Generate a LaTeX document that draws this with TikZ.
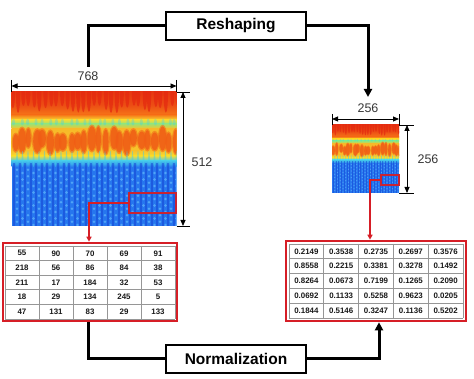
\documentclass[tikz,border=0pt]{standalone}
\usepackage{fontspec}
\setmainfont{Liberation Sans}
\usetikzlibrary{arrows.meta,calc}
\definecolor{tabred}{RGB}{214,30,38}
\definecolor{selred}{RGB}{200,35,50}
\definecolor{gridgray}{RGB}{150,150,150}
\definecolor{dimtext}{RGB}{55,55,55}
\definecolor{cellText}{RGB}{25,25,25}
\definecolor{sRed}{RGB}{228,40,16}
\definecolor{sOrange}{RGB}{246,120,24}
\definecolor{sYel}{RGB}{248,220,50}
\definecolor{sGreen}{RGB}{150,228,120}
\definecolor{sCyan}{RGB}{70,205,235}
\definecolor{sBlue}{RGB}{38,118,238}
\definecolor{sDeep}{RGB}{18,58,205}
\definecolor{sLight}{RGB}{95,180,250}
\tikzset{
  conn/.style={line width=3pt,black},
  redconn/.style={line width=1.3pt,tabred,-{Triangle[length=5pt,width=5pt]}},
  dimline/.style={line width=0.8pt,black},
  dimarrows/.style={{Triangle[length=6pt,width=5pt]}-{Triangle[length=6pt,width=5pt]}},
  labelbox/.style={draw,line width=1.4pt,minimum width=140pt,minimum height=28pt,inner sep=0pt,fill=white,font=\bfseries\fontsize{15.5}{18}\selectfont},
  dimlabel/.style={text=dimtext,inner sep=0pt,font=\fontsize{12.5}{14}\selectfont},
  tabframe/.style={draw=tabred,line width=2.6pt,inner sep=0pt},
  selbox/.style={draw=selred,line width=2pt,inner sep=0pt},
  gridline/.style={gridgray,line width=0.7pt},
  cell/.style={inner sep=0pt,text=cellText,font=\bfseries\fontsize{7.9}{9}\selectfont},
}
% band: x0 y0 w h f0 f1 topcolor bottomcolor
\newcommand\shadeband[8]{%
  \shade[top color=#7,bottom color=#8] ({#1},{#2+#5*#4}) rectangle ({#1+#3},{#2+#6*#4+0.7});}
% spectrogram: x0 y0 w h scale
\newcommand\spectro[5]{%
\begin{scope}
  \clip (#1,#2) rectangle ++(#3,#4);
  \fill[sBlue] (#1,#2) rectangle ++(#3,#4);
  \shadeband{#1}{#2}{#3}{#4}{0}{0.10}{sRed!80!sOrange}{sRed!50!sOrange}
  \shadeband{#1}{#2}{#3}{#4}{0.10}{0.17}{sRed!50!sOrange}{sOrange}
  \shadeband{#1}{#2}{#3}{#4}{0.17}{0.205}{sOrange}{sYel}
  \shadeband{#1}{#2}{#3}{#4}{0.205}{0.235}{sYel}{sGreen}
  \shadeband{#1}{#2}{#3}{#4}{0.235}{0.27}{sGreen}{sYel!75!sOrange}
  \shadeband{#1}{#2}{#3}{#4}{0.27}{0.44}{sYel!65!sOrange}{sYel!75!sOrange}
  \shadeband{#1}{#2}{#3}{#4}{0.44}{0.475}{sYel!75!sOrange}{sYel}
  \shadeband{#1}{#2}{#3}{#4}{0.475}{0.51}{sYel}{sCyan}
  \shadeband{#1}{#2}{#3}{#4}{0.51}{0.55}{sCyan}{sBlue}
  \pgfmathsetseed{17}
  \pgfmathtruncatemacro\nA{#3/(5.5*#5)}
  % red drips at top
  \foreach \k in {0,...,\nA}{
    \pgfmathsetmacro\xx{#1+(\k+0.3*rnd)*5.5*#5}
    \pgfmathsetmacro\yr{(0.08+0.06*rnd)*#4}
    \fill[sRed,opacity=.7] (\xx,{#2+0.02*#4}) ellipse [x radius={2.1*#5}, y radius=\yr];
  }
  % orange blobs in middle band
  \pgfmathtruncatemacro\nB{#3/(7*#5)}
  \foreach \k in {0,...,\nB}{
    \pgfmathsetmacro\xx{#1+(\k+0.5+0.4*(rnd-0.5))*7*#5}
    \pgfmathsetmacro\yy{#2+(0.36+0.04*(rnd-0.5))*#4}
    \pgfmathsetmacro\xr{(2.4+1.8*rnd)*#5}
    \pgfmathsetmacro\yr{(0.06+0.035*rnd)*#4}
    \fill[sOrange!75!sRed,opacity=.55] (\xx,\yy) ellipse [x radius={\xr+1.2*#5}, y radius={\yr+0.012*#4}];
    \fill[sOrange!65!sRed,opacity=.8] (\xx,\yy) ellipse [x radius=\xr, y radius=\yr];
  }
  % cyan wisps in the green band
  \foreach \k in {0,...,\nB}{
    \pgfmathsetmacro\xx{#1+(\k+0.2+0.5*rnd)*7*#5}
    \fill[sCyan,opacity=.35] (\xx,{#2+0.225*#4}) ellipse [x radius={1.5*#5}, y radius={0.025*#4}];
  }
  % blue region: dark stripes and light dots
  \foreach \k in {0,...,\nA}{
    \pgfmathsetmacro\xx{#1+(\k+0.5)*5.5*#5}
    \fill[sDeep,opacity=.45] ({\xx-0.9*#5},{#2+0.53*#4}) rectangle ({\xx+0.9*#5},{#2+#4});
    \fill[sCyan,opacity=.5] ({\xx+2.75*#5},{#2+0.50*#4}) ellipse [x radius={0.8*#5}, y radius={0.06*#4}];
    \foreach \j in {0,...,9}{
      \pgfmathsetmacro\yy{#2+0.58*#4+(\j+0.5*mod(\k,2))*6.5*#5}
      \fill[sLight,opacity=.75] ({\xx+2.75*#5},\yy) circle [radius={1.3*#5}];
    }
  }
\end{scope}}
\begin{document}
\begin{tikzpicture}[x=1pt,y=-1pt]
\fill[white] (0,0) rectangle (474,379);
\useasboundingbox (0,0) rectangle (474,379);

% spectrograms
\spectro{11.5}{92}{165}{134}{1}
\spectro{332}{125}{67}{68}{0.5}

% selection boxes
\node[selbox,minimum width=47pt,minimum height=20pt] (lsel) at (152,203) {};
\node[selbox,line width=1.6pt,minimum width=18pt,minimum height=10pt] (rsel) at (390,180) {};

% dimension lines, left
\draw[dimline,dimarrows] (11.5,86) -- (176.5,86);
\draw[dimline] (11.5,80) -- (11.5,92) (176.5,80) -- (176.5,92);
\draw[dimline,dimarrows] (183,92) -- (183,226);
\draw[dimline] (176.5,92) -- (190,92) (176.5,226) -- (190,226);
\node[dimlabel] (l768) at (88,76) {768};
\node[dimlabel] (l512) at (202,162) {512};
% dimension lines, right
\draw[dimline,dimarrows] (332,119) -- (399,119);
\draw[dimline] (332,114) -- (332,125) (399,114) -- (399,125);
\draw[dimline,dimarrows] (407,125) -- (407,193);
\draw[dimline] (399,125) -- (414,125) (399,193) -- (414,193);
\node[dimlabel] (r256a) at (368,108) {256};
\node[dimlabel] (r256b) at (428,159) {256};

% left table
\node[tabframe,minimum width=174pt,minimum height=78pt] (ltab) at (90,282) {};
\foreach \i in {0,...,5} \draw[gridline] ({5+34*\i},246) -- ({5+34*\i},319);
\foreach \j in {0,...,5} \draw[gridline] (5,{246+14.6*\j}) -- (175,{246+14.6*\j});
\foreach \row [count=\r] in {{55,90,70,69,91},{218,56,86,84,38},{211,17,184,32,53},{18,29,134,245,5},{47,131,83,29,133}}{
  \foreach \v [count=\c] in \row {
    \node[cell] (l\r\c) at ({5+34*(\c-0.5)},{246+14.6*(\r-0.5)}) {\v};
  }
}

% right table
\node[tabframe,minimum width=180pt,minimum height=80pt] (rtab) at (376,281) {};
\foreach \i in {0,...,5} \draw[gridline] ({289+34.8*\i},244) -- ({289+34.8*\i},318);
\foreach \j in {0,...,5} \draw[gridline] (289,{244+14.8*\j}) -- (463,{244+14.8*\j});
\foreach \row [count=\r] in {{0.2149,0.3538,0.2735,0.2697,0.3576},{0.8558,0.2215,0.3381,0.3278,0.1492},{0.8264,0.0673,0.7199,0.1265,0.2090},{0.0692,0.1133,0.5258,0.9623,0.0205},{0.1844,0.5146,0.3247,0.1136,0.5202}}{
  \foreach \v [count=\c] in \row {
    \node[cell] (r\r\c) at ({289+34.8*(\c-0.5)},{244+14.8*(\r-0.5)}) {\v};
  }
}

% process boxes
\node[labelbox] (resh) at (236,26) {Reshaping};
\node[labelbox] (norm) at (236,359) {Normalization};

% black connectors
\coordinate (ltop) at (88,67);
\coordinate (rtgt) at (368,97);
\draw[conn] (ltop) |- (resh.west);
\draw[conn,-{Triangle[length=8pt,width=8pt]}] (resh.east) -| (rtgt);
\draw[conn] ($(ltab.south)+(-2,0)$) |- (norm.west);
\draw[conn,-{Triangle[length=8pt,width=8pt]}] (norm.east) -| ($(rtab.south)+(3,0)$);

% red connectors
\draw[redconn] (lsel.west) -| ($(ltab.north)+(-1,0)$);
\draw[redconn] (rsel.west) -| ($(rtab.north)+(-6,0)$);
\end{tikzpicture}
\end{document}
